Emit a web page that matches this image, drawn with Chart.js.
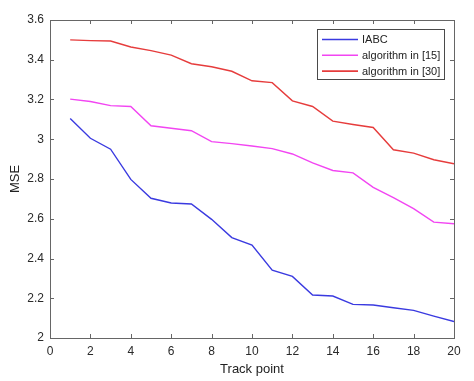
<!DOCTYPE html>
<html>
<head>
<meta charset="utf-8">
<script src="https://cdn.jsdelivr.net/npm/chart.js@4.4.0/dist/chart.umd.min.js"></script>
<style>
html,body{margin:0;padding:0;background:#fff;}
#wrap{width:474px;height:381px;position:relative;}
</style>
</head>
<body>
<div id="wrap"><canvas id="c" width="474" height="381"></canvas></div>
<script>
const trackPoints = [1,2,3,4,5,6,7,8,9,10,11,12,13,14,15,16,17,18,19,20];
const iabc = [3.104,3.005,2.950,2.798,2.703,2.679,2.674,2.597,2.505,2.468,2.341,2.310,2.216,2.211,2.169,2.166,2.152,2.139,2.110,2.083];
const alg15 = [3.202,3.190,3.169,3.165,3.068,3.055,3.043,2.988,2.978,2.966,2.953,2.926,2.881,2.843,2.831,2.758,2.706,2.651,2.583,2.575];
const alg30 = [3.500,3.496,3.494,3.464,3.446,3.423,3.380,3.365,3.342,3.294,3.285,3.193,3.165,3.091,3.074,3.059,2.947,2.930,2.897,2.877];
const seriesNames = ['IABC','algorithm in [15]','algorithm in [30]'];
const xTicks = [0,2,4,6,8,10,12,14,16,18,20];
const yTicks = [2,2.2,2.4,2.6,2.8,3,3.2,3.4,3.6];
const yTickLabels = ['2','2.2','2.4','2.6','2.8','3','3.2','3.4','3.6'];

const colors = ['#3a3ae0','#f245f2','#e63c3c'];
const axisColor = '#666666';
const font = 'Liberation Sans, Arial, sans-serif';

function mk(data, i){
  return {label: seriesNames[i], data: trackPoints.map((x,k)=>({x, y:data[k]})),
    borderColor: colors[i], backgroundColor: colors[i], borderWidth: 1.4,
    pointRadius: 0, tension: 0, fill:false};
}

const boxPlugin = {
  id:'box',
  afterDraw(chart){
    const {ctx, chartArea:a, scales} = chart;
    ctx.save();
    ctx.strokeStyle = axisColor;
    ctx.lineWidth = 1;
    ctx.strokeRect(Math.round(a.left)+0.5, Math.round(a.top)+0.5, Math.round(a.right-a.left), Math.round(a.bottom-a.top));
    const tl = 4;
    ctx.beginPath();
    xTicks.forEach(v=>{
      const x = Math.round(scales.x.getPixelForValue(v))+0.5;
      ctx.moveTo(x, a.bottom); ctx.lineTo(x, a.bottom-tl);
      ctx.moveTo(x, a.top); ctx.lineTo(x, a.top+tl);
    });
    yTicks.forEach(v=>{
      const y = Math.round(scales.y.getPixelForValue(v))+0.5;
      ctx.moveTo(a.left, y); ctx.lineTo(a.left+tl, y);
      ctx.moveTo(a.right, y); ctx.lineTo(a.right-tl, y);
    });
    ctx.stroke();
    // legend
    const lx = 317.5, ly = 29.5, lw = 127, lh = 50;
    ctx.fillStyle = '#fff';
    ctx.fillRect(lx, ly, lw, lh);
    ctx.strokeStyle = '#4a4a4a';
    ctx.strokeRect(lx, ly, lw, lh);
    ctx.font = '11px ' + font;
    ctx.textBaseline = 'middle';
    ctx.textAlign = 'left';
    chart.data.datasets.forEach((ds,i)=>{
      const y = 39.5 + i*15.8;
      ctx.strokeStyle = ds.borderColor;
      ctx.lineWidth = 1.6;
      ctx.beginPath(); ctx.moveTo(322, y); ctx.lineTo(358, y); ctx.stroke();
      ctx.fillStyle = '#222';
      ctx.fillText(ds.label, 362, y+0.5);
    });
    ctx.restore();
  }
};

new Chart(document.getElementById('c'), {
  type:'line',
  data:{datasets:[mk(iabc,0), mk(alg15,1), mk(alg30,2)]},
  options:{
    responsive:false, animation:false,
    layout:{padding:{left:0,right:20,top:20,bottom:0}},
    plugins:{legend:{display:false}, tooltip:{enabled:false}},
    scales:{
      x:{type:'linear', min:0, max:20,
        afterFit(s){ s.height = 43; },
        afterBuildTicks(s){ s.ticks = xTicks.map(v=>({value:v})); },
        grid:{display:false, drawTicks:false},
        border:{display:false},
        ticks:{padding:6, color:'#2a2a2a', font:{family:font, size:12}, maxRotation:0, autoSkip:false},
        title:{display:true, text:'Track point', color:'#222', font:{family:font, size:13}, padding:{top:0,bottom:4}}
      },
      y:{type:'linear', min:2, max:3.6,
        afterFit(s){ s.width = 50; },
        afterBuildTicks(s){ s.ticks = yTicks.map(v=>({value:v})); },
        grid:{display:false, drawTicks:false},
        border:{display:false},
        ticks:{padding:6, color:'#2a2a2a', font:{family:font, size:12}, autoSkip:false,
          callback:(v)=>{ const i = yTicks.findIndex(t=>Math.abs(t-v)<1e-6); return i>=0?yTickLabels[i]:''; }},
        title:{display:true, text:'MSE', color:'#222', font:{family:font, size:13}, padding:{top:8,bottom:0}}
      }
    }
  },
  plugins:[boxPlugin]
});
</script>
</body>
</html>
